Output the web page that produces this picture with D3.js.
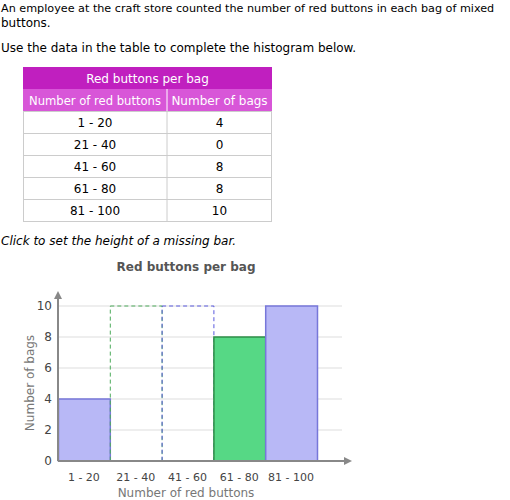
<!DOCTYPE html>
<html><head><meta charset="utf-8">
<script src="https://cdn.jsdelivr.net/npm/d3@7"></script>
<style>
body{margin:0;background:#fff;font-family:"DejaVu Sans",Verdana,sans-serif;color:#000}
svg text{font-family:"DejaVu Sans",Verdana,sans-serif}
</style></head><body>
<div id="chart"></div>
<script>
const categories = ["1 - 20", "21 - 40", "41 - 60", "61 - 80", "81 - 100"];
const bags = [4, 0, 8, 8, 10];
const shown = [4, 10, 10, 8, 10];          // bar heights drawn in the histogram
const kinds = ["filled", "dashgreen", "dashblue", "green", "filled"];
const yTicks = [0, 2, 4, 6, 8, 10];

const svg = d3.select("#chart").append("svg").attr("width", 510).attr("height", 500);

// prompt text
const para = svg.append("g").style("font-size", "12px");
para.append("text").attr("x", 1).attr("y", 12).style("font-size", "11.2px")
  .text("An employee at the craft store counted the number of red buttons in each bag of mixed");
para.append("text").attr("x", 1).attr("y", 27).text("buttons.");
para.append("text").attr("x", 1).attr("y", 52).text("Use the data in the table to complete the histogram below.");

// table
const tx = 23, tw = 249, colX = 167, rh = 22, ty = 67;
const tbl = svg.append("g").style("font-size", "12px");
tbl.append("rect").attr("x", tx).attr("y", ty).attr("width", tw).attr("height", rh).attr("fill", "#c01fbf");
tbl.append("text").attr("x", tx + tw / 2).attr("y", ty + 15.5).attr("text-anchor", "middle").attr("fill", "#fff").text("Red buttons per bag");
tbl.append("rect").attr("x", tx).attr("y", ty + rh).attr("width", tw).attr("height", rh).attr("fill", "#d856d8");
tbl.append("line").attr("x1", colX).attr("x2", colX).attr("y1", ty + rh).attr("y2", ty + 2 * rh).attr("stroke", "#fff");
tbl.append("text").attr("x", (tx + colX) / 2).attr("y", ty + rh + 15.5).attr("text-anchor", "middle").attr("fill", "#fff")
  .attr("textLength", 132).attr("lengthAdjust", "spacingAndGlyphs").text("Number of red buttons");
tbl.append("text").attr("x", (colX + tx + tw) / 2).attr("y", ty + rh + 15.5).attr("text-anchor", "middle").attr("fill", "#fff").text("Number of bags");
categories.forEach((c, i) => {
  const y = ty + rh * (i + 2);
  tbl.append("rect").attr("x", tx + 0.5).attr("y", y + 0.5).attr("width", tw - 1).attr("height", rh).attr("fill", "none").attr("stroke", "#ccc");
  tbl.append("line").attr("x1", colX).attr("x2", colX).attr("y1", y).attr("y2", y + rh).attr("stroke", "#ccc");
  tbl.append("text").attr("x", (tx + colX) / 2).attr("y", y + 15.5).attr("text-anchor", "middle").text(c);
  tbl.append("text").attr("x", (colX + tx + tw) / 2).attr("y", y + 15.5).attr("text-anchor", "middle").text(bags[i]);
});

svg.append("text").attr("x", 1).attr("y", 245).style("font-size", "12px").style("font-style", "italic").text("Click to set the height of a missing bar.");

// chart
const pLeft = 58, pRight = 342, pTop = 306, pBottom = 461;
const x = d3.scaleBand().domain(categories).range([pLeft, pLeft + 5 * 51.8]).padding(0);
const y = d3.scaleLinear().domain([0, 10]).range([pBottom, pTop]);

svg.append("text").attr("x", 186).attr("y", 271).attr("text-anchor", "middle").attr("fill", "#555")
  .style("font-size", "12px").style("font-weight", "bold").text("Red buttons per bag");

svg.append("g").selectAll("line").data(yTicks.slice(1)).join("line")
  .attr("x1", pLeft).attr("x2", pRight).attr("y1", d => y(d)).attr("y2", d => y(d)).attr("stroke", "#ddd");

const style = {
  filled: {fill: "#b8b8f6", stroke: "#7777d9", dash: null},
  green: {fill: "#56d885", stroke: "#2e8e48", dash: null},
  dashgreen: {fill: "none", stroke: "#4caa5a", dash: "4,3"},
  dashblue: {fill: "none", stroke: "#5a5ade", dash: "4,3"}
};
svg.append("g").selectAll("rect").data(categories).join("rect")
  .attr("x", d => x(d) + 0.5).attr("y", (d, i) => y(shown[i]))
  .attr("width", x.bandwidth()).attr("height", (d, i) => pBottom - y(shown[i]))
  .attr("fill", (d, i) => style[kinds[i]].fill)
  .attr("stroke", (d, i) => style[kinds[i]].stroke)
  .attr("stroke-width", (d, i) => kinds[i].startsWith("dash") ? 1 : 1.5)
  .attr("stroke-dasharray", (d, i) => style[kinds[i]].dash);

// axes with arrows
const ax = svg.append("g").attr("stroke", "#888").attr("stroke-width", 2);
ax.append("line").attr("x1", pLeft).attr("x2", pLeft).attr("y1", pBottom).attr("y2", 297);
ax.append("line").attr("x1", pLeft).attr("x2", 346).attr("y1", pBottom).attr("y2", pBottom);
svg.append("path").attr("d", `M${pLeft - 4},${299} L${pLeft},${291} L${pLeft + 4},${299} Z`).attr("fill", "#888");
svg.append("path").attr("d", `M${344},${pBottom - 4} L${352},${pBottom} L${344},${pBottom + 4} Z`).attr("fill", "#888");

svg.append("g").selectAll("text").data(yTicks).join("text")
  .attr("x", pLeft - 6).attr("y", d => y(d) + 4).attr("text-anchor", "end").attr("fill", "#444")
  .style("font-size", "12px").text(d => d);
svg.append("g").selectAll("text").data(categories).join("text")
  .attr("x", d => x(d) + x.bandwidth() / 2).attr("y", 481).attr("text-anchor", "middle").attr("fill", "#444")
  .style("font-size", "11px").text(d => d);

svg.append("text").attr("x", 186).attr("y", 497).attr("text-anchor", "middle").attr("fill", "#777")
  .style("font-size", "12px").text("Number of red buttons");
svg.append("text").attr("transform", "translate(34,383) rotate(-90)").attr("text-anchor", "middle").attr("fill", "#777")
  .style("font-size", "12px").text("Number of bags");
</script></body></html>
